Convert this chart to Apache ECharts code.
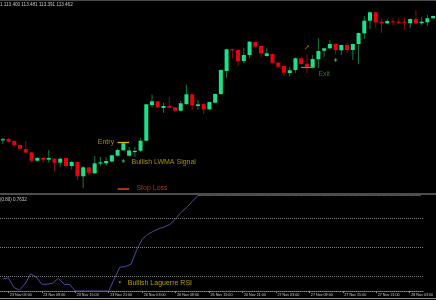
<!DOCTYPE html>
<html><head><meta charset="utf-8">
<script src="https://cdn.jsdelivr.net/npm/echarts@6/dist/echarts.min.js"></script>
<style>html,body{margin:0;padding:0;background:#000;}#c{width:436px;height:300px;}</style>
</head><body><div id="c"></div>
<script>
// ---- data (hourly bars, price in chart units) ----
const daySegments = [['23 Nov', 2, 23], ['26 Nov', 0, 23], ['27 Nov', 0, 23], ['28 Nov', 0, 5]];
const opens  = [59.7,61,59,55,51,47.7,39.3,42,40.3,41.3,37.3,42,34,38,23.7,32.7,26.7,36.5,36.7,38.5,
  44.3,49.7,44.3,48,49.3,59.3,95,98.7,92,94,92.7,89.3,96,105.7,94,96,90.7,97.3,106,129,
  151,150,139,145,158,154,144,146,137.3,134,127,130,141.7,136.3,132.3,140.7,149.3,151.7,156,149.7,
  155,150,156,166.7,179.3,187.7,178.3,176.7,178.7,178.3,178.3,176.7,181,176.7,177.7,181.7];
const closes = [60.7,58.3,55,51.3,47.5,39.3,42,40.3,42,37.3,41.3,34,38,23.7,32.7,27.3,36.7,37.5,39,44.7,
  50,56.7,49.5,49,59.3,95.7,98.7,92.7,94,92.3,89.3,96.7,105.7,95,95.7,90.7,98,106,130,150.7,
  149.7,139,145,158.3,153.3,146.7,146.7,137.3,133.3,127.3,129.7,141.7,136,132.3,141,149,151.7,156,150,155,
  150,156,167,179.3,187.7,177.7,176.7,179,177.7,177,177.3,181,176.7,178.3,181.7,184];
const lows   = [56,57.5,53.7,50.5,46.5,37.7,38.3,37.3,37.3,29,33.3,32.3,30.7,20,11.7,25,26,34,34.3,38,
  43.3,49,43.3,43.3,48.3,58.5,92.7,92,87.3,91.7,88.5,88.5,95,90,90.7,86,90,96.5,105,122.3,
  141.7,134,136.7,141.7,152.5,142.3,143.3,136.7,132.5,124.3,123.3,127.3,135.3,126.7,131.7,131.7,143.3,151,146,145,
  146.7,140,135.7,160.7,171,171.7,167.3,175.7,174.3,176,171,171.7,176,175,174.3,181];
const highs  = [62,62.3,59.5,55.5,59,48,43,43,50,42,42.7,42.5,39,38.5,33.7,33,44,43,42.7,45.5,
  51.7,57.5,53.3,53.3,61.7,96,105.3,99,97.3,102.7,93,99,115.3,106,100,96.5,98.5,106.5,130.5,151.5,
  151.5,150.5,152.3,159,158.5,154.5,151.7,146.5,138,134.5,133,142.5,143.3,145.7,145,161.7,152.3,160,156.5,155.5,
  157.7,156.5,167.5,184,188.3,188.3,181.7,181,182.3,181.7,182.3,181.5,190,183.3,185,184.5];
const lrsi = [0.125,0.139,0.036,0.01,0.073,0.18,0.146,0.07,0.071,0.083,0.135,0.07,0.068,0,0,0,0,0,0,0,
  0.125,0.25,0.255,0.28,0.427,0.542,0.594,0.625,0.653,0.672,0.698,0.755,0.823,0.875,0.938,1,1,1,1,1,
  1,1,1,1,1,1,1,1,1,1,1,1,1,1,1,1,1,1,1,1,
  1,1,1,1,1,1,1,1,1,1,1,1,1,1,1,1];
const lrsiLevels = [0.76, 0.455, 0.155];
const headerText = '1 113.400 113.481 113.391 113.462';
const indicatorText = '(0.80) 0.7632';
const labelEvery = 6, labelPhase = 1;

// annotations (data coordinates: bar index, value)
const mainNotes = [
  {text: 'Entry', at: [17, 58], dx: -2.6, color: '#c4b000'},
  {text: 'Bullish LWMA Signal', at: [22, 37.7], dx: 2.4, color: '#cdb500'},
  {text: 'Stop Loss', at: [23, 12], dx: 1.6, color: '#d8401c'},
  {text: 'Exit', at: [55, 126], dx: 0, color: '#2f9a3a'}
];
const mainSegments = [
  {from: 20, to: 22, level: 57.3, color: '#cdb800', width: 1.3},
  {from: 20, to: 22, level: 11.3, color: '#d2401a', width: 1.6},
  {from: 52, to: 54, level: 132.7, color: '#5a9a2a', width: 1.3}
];
const plusMarks = [[21, 39], [58, 140]];
const arrowMarks = [[53, 152.5]];
const indNotes = [{text: 'Bullish Laguerre RSI', at: [22, 0.08], dx: 2.4, color: '#dcc000'}];
const indMarks = [[21, 0.094]];

// ---- build ----
const categories = [];
daySegments.forEach(([d, h0, h1]) => {
  for (let h = h0; h <= h1; h++) categories.push(d + ' ' + String(h).padStart(2, '0') + ':00');
});
const candleData = opens.map((o, i) => [i, o, closes[i], lows[i], highs[i]]);

function renderCandle(params, api) {
  const i = api.value(0);
  const o = api.value(1), c = api.value(2), l = api.value(3), h = api.value(4);
  const pO = api.coord([i, o]), pC = api.coord([i, c]), pL = api.coord([i, l]), pH = api.coord([i, h]);
  const cx = pO[0];
  const bull = c >= o;
  let top = Math.min(pO[1], pC[1]), bot = Math.max(pO[1], pC[1]);
  if (bot - top < 1.2) { const m = (top + bot) / 2; top = m - 0.6; bot = m + 0.6; }
  return {type: 'group', children: [
    {type: 'rect', shape: {x: cx - 0.5, y: pH[1], width: 1, height: Math.max(pL[1] - pH[1], 1)},
     style: {fill: bull ? '#0f7a45' : '#8a0c0c'}},
    {type: 'rect', shape: {x: cx - 2, y: top, width: 4, height: bot - top},
     style: {fill: bull ? '#18e38a' : '#e8000f'}}
  ]};
}

const noteItem = n => ({
  value: n.at, symbolSize: 0,
  label: {show: true, position: 'right', distance: 0, offset: [n.dx, 0], formatter: n.text,
    color: n.color, fontSize: 7, fontFamily: 'Liberation Sans'}
});

const chart = echarts.init(document.getElementById('c'), null, {renderer: 'canvas'});
chart.setOption({
  backgroundColor: '#000000',
  animation: false,
  grid: [
    {left: 0, top: 5, width: 440, height: 189},
    {left: 0, top: 195.5, width: 440, height: 95.5}
  ],
  xAxis: [
    {type: 'category', gridIndex: 0, data: categories, show: false, boundaryGap: true},
    {type: 'category', gridIndex: 1, data: categories, boundaryGap: true,
     axisLine: {show: true, lineStyle: {color: '#8a8a8a', type: 'dotted', width: 1}},
     axisTick: {show: true, alignWithLabel: true, length: 2, interval: i => i % labelEvery === labelPhase,
       lineStyle: {color: '#8a8a8a'}},
     axisLabel: {show: true, interval: i => i % labelEvery === labelPhase, align: 'left', margin: 1.6,
       padding: [0, 0, 0, 1.5], color: '#c8c8c8', fontSize: 3.7, fontFamily: 'Liberation Sans'},
     splitLine: {show: false}}
  ],
  yAxis: [
    {type: 'value', gridIndex: 0, min: 6, max: 195, show: false},
    {type: 'value', gridIndex: 1, min: 0, max: 1, show: false}
  ],
  series: [
    {type: 'custom', name: 'bars', xAxisIndex: 0, yAxisIndex: 0, data: candleData,
     renderItem: renderCandle, encode: {x: 0, y: [1, 2, 3, 4]}, silent: true},
    {type: 'scatter', name: 'notes', xAxisIndex: 0, yAxisIndex: 0, silent: true,
     data: mainNotes.map(noteItem),
     markLine: {silent: true, symbol: ['none', 'none'], label: {show: false},
       data: mainSegments.map(s => [
         {coord: [s.from, s.level], lineStyle: {color: s.color, width: s.width, type: 'solid'}},
         {coord: [s.to, s.level]}])}},
    {type: 'scatter', name: 'plus', xAxisIndex: 0, yAxisIndex: 0, silent: true,
     symbol: 'path://M1,0H2V1H3V2H2V3H1V2H0V1H1Z', symbolSize: 3.5,
     itemStyle: {color: '#3bd46e'}, data: plusMarks},
    {type: 'scatter', name: 'arrow', xAxisIndex: 0, yAxisIndex: 0, silent: true,
     symbol: 'path://M0,9L7,2L6,0L10,0L10,4L8,3L1,10Z', symbolSize: 4,
     itemStyle: {color: '#c8b400'}, data: arrowMarks},
    {type: 'line', name: 'LaguerreRSI', xAxisIndex: 1, yAxisIndex: 1, data: lrsi,
     showSymbol: false, symbol: 'none', silent: true, clip: false,
     lineStyle: {color: '#5048a0', width: 1},
     markLine: {silent: true, symbol: ['none', 'none'], label: {show: false},
       lineStyle: {color: '#7a7a7a', type: 'dotted', width: 1},
       data: lrsiLevels.map(v => ({yAxis: v}))}},
    {type: 'scatter', name: 'indNotes', xAxisIndex: 1, yAxisIndex: 1, silent: true,
     data: indNotes.map(noteItem)},
    {type: 'scatter', name: 'indMarks', xAxisIndex: 1, yAxisIndex: 1, silent: true,
     symbol: 'emptyCircle', symbolSize: 3.2, itemStyle: {color: '#000', borderColor: '#e0c400', borderWidth: 1},
     data: indMarks}
  ],
  graphic: [
    {type: 'line', shape: {x1: 0, y1: 0.5, x2: 436, y2: 0.5}, style: {stroke: '#4a4a4a', lineWidth: 1}, silent: true},
    {type: 'line', shape: {x1: 0, y1: 194, x2: 436, y2: 194}, style: {stroke: '#9a9a9a', lineWidth: 1}, silent: true, z: -1},
    {type: 'line', shape: {x1: 0, y1: 298.5, x2: 436, y2: 298.5}, style: {stroke: '#8a8a8a', lineWidth: 1}, silent: true},
    {type: 'text', left: 0, top: 2, silent: true,
     style: {text: headerText, fill: '#c8c8c8', fontSize: 4.6, fontFamily: 'Liberation Sans'}},
    {type: 'text', left: 0, top: 197, silent: true,
     style: {text: indicatorText, fill: '#c8c8c8', fontSize: 4.5, fontFamily: 'Liberation Sans'}}
  ]
});
</script></body></html>
